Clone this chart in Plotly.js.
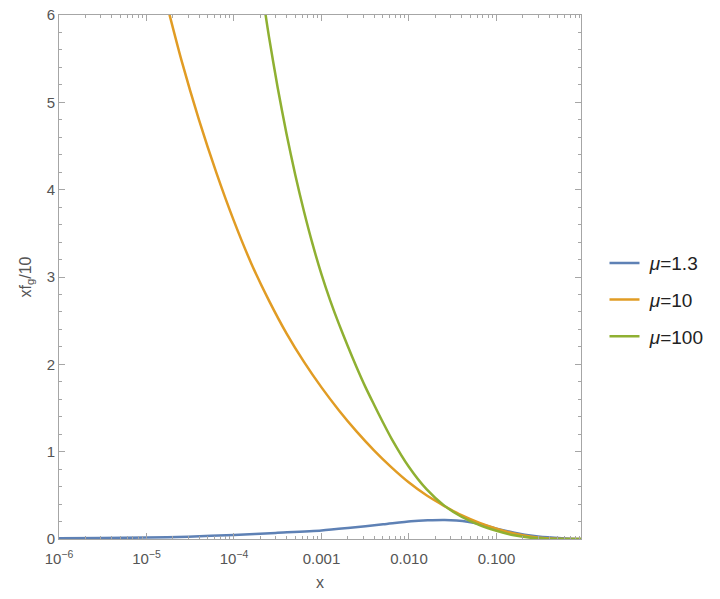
<!DOCTYPE html>
<html>
<head>
<meta charset="utf-8">
<script src="https://cdn.plot.ly/plotly-3.0.1.min.js"></script>
<style>html,body{margin:0;padding:0;background:#fff;}#chart{width:720px;height:599px;}</style>
</head>
<body>
<div id="chart"></div>
<script>
// Data
const seriesNames = ["\u00A0<i>μ</i>=1.3", "\u00A0<i>μ</i>=10", "\u00A0<i>μ</i>=100"];

const xMu13 = [1e-6, 3e-6, 1e-5, 3e-5, 1e-4, 3e-4, 1e-3, 2e-3, 5.07e-3, 1.054e-2, 1.64e-2, 2.56e-2, 3.5e-2, 4.68e-2, 6.93e-2, 9.75e-2, 0.160, 0.27, 0.456, 0.7, 0.925];
const yMu13 = [0.008, 0.011, 0.016, 0.027, 0.046, 0.070, 0.097, 0.125, 0.168, 0.203, 0.214, 0.218, 0.212, 0.198, 0.164, 0.122, 0.072, 0.034, 0.013, 0.003, 0.0];

const xMu10 = [1.585e-5, 2.512e-5, 3.981e-5, 6.31e-5, 1e-4, 1.585e-4, 2.512e-4, 3.981e-4, 6.31e-4, 1e-3, 1.585e-3, 2.512e-3, 3.981e-3, 6.31e-3, 0.01, 0.01585, 0.02512, 0.03981, 0.0631, 0.1, 0.1585, 0.2512, 0.3981, 0.631, 0.925];
const yMu10 = [6.25, 5.48, 4.80, 4.19, 3.64, 3.15, 2.73, 2.355, 2.028, 1.736, 1.472, 1.232, 1.015, 0.82, 0.646, 0.50, 0.38, 0.272, 0.187, 0.118, 0.062, 0.025, 0.006, 0.001, 0.0];

const xMu100 = [1.995e-4, 2.512e-4, 3.162e-4, 3.981e-4, 5.012e-4, 6.31e-4, 7.943e-4, 1e-3, 1.259e-3, 1.585e-3, 1.995e-3, 2.512e-3, 3.162e-3, 3.981e-3, 5.012e-3, 6.31e-3, 0.01, 0.01585, 0.02512, 0.03981, 0.0631, 0.1, 0.1585, 0.2512, 0.3981, 0.631, 0.925];
const yMu100 = [6.41, 5.75, 5.165, 4.64, 4.17, 3.75, 3.37, 3.03, 2.73, 2.46, 2.21, 1.97, 1.745, 1.54, 1.34, 1.15, 0.824, 0.57, 0.385, 0.255, 0.162, 0.094, 0.042, 0.013, 0.001, 0.0, 0.0];

const xTickVals = [1e-6, 1e-5, 1e-4, 1e-3, 1e-2, 1e-1];
const xTickText = ["10<sup>−6</sup>", "10<sup>−5</sup>", "10<sup>−4</sup>", "0.001", "0.010", "0.100"];
const yTickVals = [0, 1, 2, 3, 4, 5, 6];

const colors = ["#5E81B5", "#E19C24", "#8FB032"];

const xs = [xMu13, xMu10, xMu100];
const ys = [yMu13, yMu10, yMu100];

const traces = xs.map((x, i) => ({
  x: x, y: ys[i], type: "scatter", mode: "lines",
  name: seriesNames[i], legendgroup: "g" + i,
  line: {color: colors[i], width: 2.5, shape: "spline", smoothing: 0.7}
}));

// minor tick positions on log axis (2..9 per decade)
const minorX = [];
for (let e = -6; e <= -1; e++) for (let d = 2; d <= 9; d++) minorX.push(d * Math.pow(10, e));

const frame = "#a6a6a6";
const fam = "Liberation Sans, Arial, sans-serif";
const tickFont = {family: fam, size: 15, color: "#555"};

const layout = {
  width: 720, height: 599,
  margin: {l: 59, r: 136, t: 15, b: 60},
  paper_bgcolor: "#fff", plot_bgcolor: "#fff",
  showlegend: true,
  legend: {x: 1.045, xanchor: "left", y: 0.456, yanchor: "middle",
           font: {family: fam, size: 19, color: "#222"},
           tracegroupgap: 9, traceorder: "grouped", bgcolor: "rgba(0,0,0,0)"},
  xaxis: {
    type: "log", range: [-6, -0.034], autorange: false,
    tickvals: xTickVals, ticktext: xTickText, tickmode: "array",
    ticks: "inside", ticklen: 6, tickcolor: frame, tickwidth: 1,
    ticklabelstandoff: 6,
    minor: {tickmode: "array", tickvals: minorX, ticks: "inside", ticklen: 3, tickcolor: frame, showgrid: false},
    showline: true, linecolor: frame, linewidth: 1, mirror: "ticks",
    showgrid: false, zeroline: false,
    tickfont: tickFont,
    title: {text: "x", font: {family: fam, size: 16, color: "#555"}, standoff: 10}
  },
  yaxis: {
    range: [0, 6], autorange: false,
    tickvals: yTickVals, tickmode: "array",
    ticks: "inside", ticklen: 6, tickcolor: frame, tickwidth: 1,
    minor: {dtick: 0.2, ticks: "inside", ticklen: 3, tickcolor: frame, showgrid: false},
    showline: true, linecolor: frame, linewidth: 1, mirror: "ticks",
    showgrid: false, zeroline: false,
    tickfont: tickFont,
    title: {text: "xf<sub>g</sub>/10", font: {family: fam, size: 16, color: "#555"}, standoff: 11}
  }
};

Plotly.newPlot("chart", traces, layout, {displayModeBar: false, staticPlot: true});
</script>
</body>
</html>
